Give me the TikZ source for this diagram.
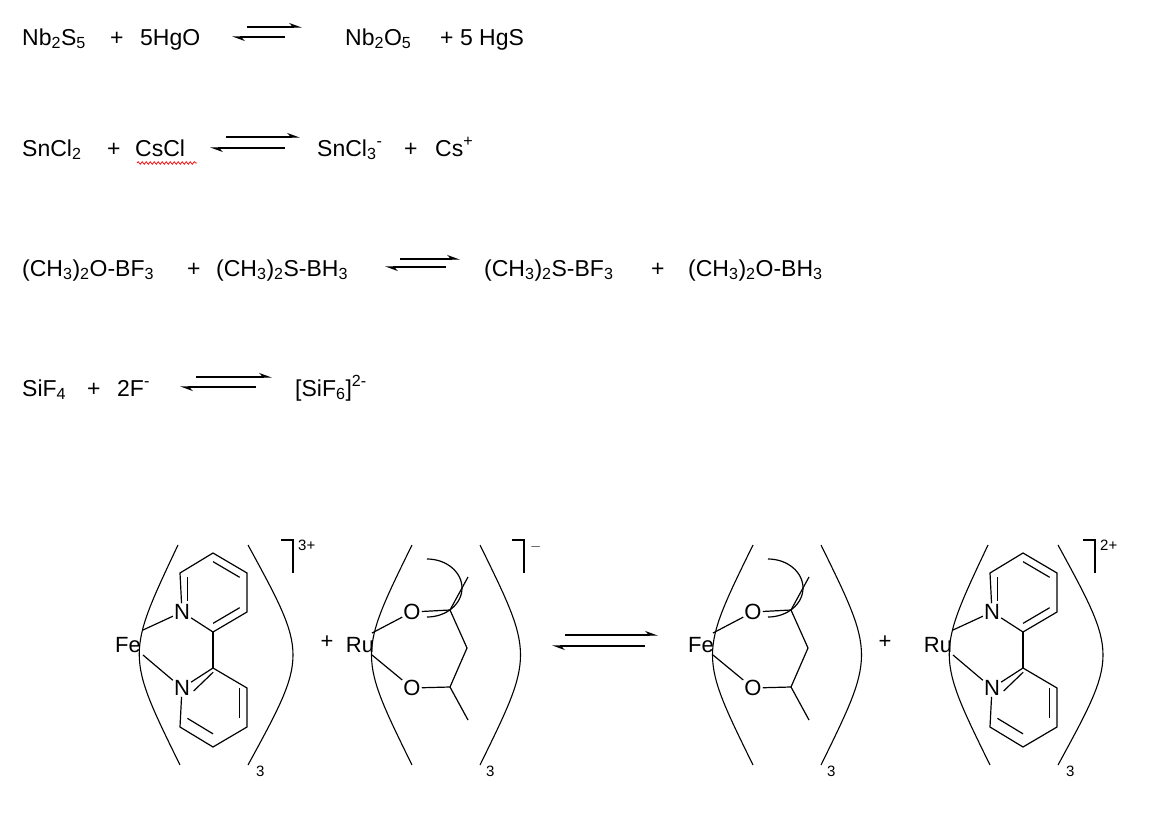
\documentclass[tikz,border=0pt]{standalone}
\usepackage{fontspec}
\setmainfont{Liberation Sans}
\usetikzlibrary{arrows.meta,calc,decorations.pathmorphing}
\tikzset{
  txt/.style={anchor=base west,inner sep=0pt,font=\fontsize{23}{27}\selectfont},
  atom/.style={inner sep=1pt,font=\fontsize{22}{26}\selectfont},
  small/.style={anchor=west,inner sep=0pt,font=\fontsize{15}{18}\selectfont},
  eqa/.style={line width=1.3pt,-{Stealth[harpoon,length=11pt,width=8pt]}},
  bond/.style={line width=1.2pt},
  paren/.style={line width=1.1pt}
}
\newcommand\bipylig[2]{% metal name, bracket charge (empty = none)
  \node[atom] (M) at (0,0) {#1};
  \coordinate (A) at (52,-72); \coordinate (B) at (85,-92); \coordinate (C) at (119,-72);
  \coordinate (D) at (119,-33); \coordinate (E) at (85,-13);
  \node[atom] (N1) at (54,-33) {N};
  \coordinate (E2) at (85,23); \coordinate (F) at (119,43); \coordinate (G) at (119,82);
  \coordinate (H) at (85,102); \coordinate (I) at (52,82);
  \node[atom] (N2) at (54,43) {N};
  \coordinate (c1) at (85.5,-52.5); \coordinate (c2) at (85.5,42.5);
  \draw[bond] (N1) -- (A) -- (B) -- (C) -- (D) -- (E) -- (N1);
  \draw[bond] (N2) -- (E2) -- (F) -- (G) -- (H) -- (I) -- (N2);
  \draw[bond] (E) -- (E2);
  \draw[bond] ($(c1)!0.78!(A)$) -- ($(c1)!0.78!(52,-42)$);
  \draw[bond] ($(c1)!0.78!(B)$) -- ($(c1)!0.78!(C)$);
  \draw[bond] ($(c1)!0.78!(D)$) -- ($(c1)!0.78!(E)$);
  \draw[bond] ($(c2)!0.78!(E2)$) -- ($(c2)!0.78!(60,47)$);
  \draw[bond] ($(c2)!0.78!(F)$) -- ($(c2)!0.78!(G)$);
  \draw[bond] ($(c2)!0.78!(H)$) -- ($(c2)!0.78!(I)$);
  \draw[bond] (15,-15) -- (N1);
  \draw[bond] (15,10) -- (N2);
  \draw[paren] (50,-100) .. controls (-2,10) .. (52,120);
  \draw[paren] (120,-100) .. controls (180,10) .. (120,120);
  \node[small] (sub) at (128,126) {3};
}
\newcommand\acaclig[1]{%
  \node[atom] (M) at (0,0) {#1};
  \node[atom] (O1) at (52,-33) {O};
  \node[atom] (O2) at (52,43) {O};
  \coordinate (C1) at (90,-35); \coordinate (C2) at (90,42);
  \coordinate (CH) at (107,3);
  \draw[bond] (12,-12) -- (O1);
  \draw[bond] (12,10) -- (O2);
  \draw[bond] (O1) -- (C1) -- (CH) -- (C2) -- (O2);
  \draw[bond] (C1) -- (108,-68);
  \draw[bond] (C2) -- (108,75);
  \draw[bond] (67,-28) arc[start angle=90,end angle=-90,x radius=35,y radius=29];
  \draw[paren] (52,-100) .. controls (-2,10) .. (52,120);
  \draw[paren] (120,-100) .. controls (174,10) .. (120,120);
  \node[small] (sub) at (126,126) {3};
}
\begin{document}
\begin{tikzpicture}[x=1pt,y=-1pt]
\useasboundingbox (0,0) rectangle (1160,830);
% row 1
\node[txt] (r1a) at (22,45) {Nb\textsubscript{2}S\textsubscript{5}};
\node[txt] (r1p) at (110,45) {+};
\node[txt] (r1b) at (140,45) {5HgO};
\node[txt] (r1c) at (345,45) {Nb\textsubscript{2}O\textsubscript{5}};
\node[txt] (r1d) at (440,45) {+ 5 HgS};
\coordinate (r1t1) at (247,27); \coordinate (r1t2) at (302,27);
\coordinate (r1b1) at (285,37); \coordinate (r1b2) at (232,37);
\draw[eqa] (r1t1) -- (r1t2); \draw[eqa] (r1b1) -- (r1b2);
% row 2
\node[txt] (r2a) at (22,156) {SnCl\textsubscript{2}};
\node[txt] (r2p) at (107,156) {+};
\node[txt] (r2b) at (135,156) {CsCl};
\node[txt] (r2c) at (317,156) {SnCl\textsubscript{3}\textsuperscript{-}};
\node[txt] (r2q) at (404,156) {+};
\node[txt] (r2d) at (435,156) {Cs\textsuperscript{+}};
\coordinate (w1) at (137,163); \coordinate (w2) at (197,163);
\draw[red,line width=0.7pt,decorate,decoration={snake,segment length=4pt,amplitude=1.3pt}] (w1) -- (w2);
\coordinate (r2t1) at (226,137); \coordinate (r2t2) at (300,137);
\coordinate (r2b1) at (285,148); \coordinate (r2b2) at (210,148);
\draw[eqa] (r2t1) -- (r2t2); \draw[eqa] (r2b1) -- (r2b2);
% row 3
\node[txt] (r3a) at (22,276) {(CH\textsubscript{3})\textsubscript{2}O-BF\textsubscript{3}};
\node[txt] (r3p) at (187,276) {+};
\node[txt] (r3b) at (216,276) {(CH\textsubscript{3})\textsubscript{2}S-BH\textsubscript{3}};
\node[txt] (r3c) at (484,276) {(CH\textsubscript{3})\textsubscript{2}S-BF\textsubscript{3}};
\node[txt] (r3q) at (651,276) {+};
\node[txt] (r3d) at (688,276) {(CH\textsubscript{3})\textsubscript{2}O-BH\textsubscript{3}};
\coordinate (r3t1) at (400,259); \coordinate (r3t2) at (460,259);
\coordinate (r3b1) at (446,267); \coordinate (r3b2) at (385,267);
\draw[eqa] (r3t1) -- (r3t2); \draw[eqa] (r3b1) -- (r3b2);
% row 4
\node[txt] (r4a) at (22,396) {SiF\textsubscript{4}};
\node[txt] (r4p) at (87,396) {+};
\node[txt] (r4b) at (117,396) {2F\textsuperscript{-}};
\node[txt] (r4c) at (295,396) {[SiF\textsubscript{6}]\textsuperscript{2-}};
\coordinate (r4t1) at (196,377); \coordinate (r4t2) at (272,377);
\coordinate (r4b1) at (256,387); \coordinate (r4b2) at (180,387);
\draw[eqa] (r4t1) -- (r4t2); \draw[eqa] (r4b1) -- (r4b2);
% bottom
\begin{scope}[shift={(128,645)},name prefix=fb-]
  \bipylig{Fe}{}
  \draw[paren] (153,-105) -- (165,-105) -- (165,-72);
  \node[small] (ch) at (170,-100) {3+};
\end{scope}
\node[atom] (plus1) at (327,642) {+};
\begin{scope}[shift={(360,645)},name prefix=ra-]
  \acaclig{Ru}
  \draw[paren] (152,-105) -- (164,-105) -- (164,-72);
  \node[small] (ch) at (170,-98) {$-$};
\end{scope}
\coordinate (ba1) at (565,635); \coordinate (ba2) at (658,635);
\coordinate (bb1) at (645,646); \coordinate (bb2) at (552,646);
\draw[eqa] (ba1) -- (ba2); \draw[eqa] (bb1) -- (bb2);
\begin{scope}[shift={(701,645)},name prefix=fa-]
  \acaclig{Fe}
\end{scope}
\node[atom] (plus2) at (885,642) {+};
\begin{scope}[shift={(938,645)},name prefix=rb-]
  \bipylig{Ru}{}
  \draw[paren] (145,-105) -- (157,-105) -- (157,-72);
  \node[small] (ch) at (162,-100) {2+};
\end{scope}
\end{tikzpicture}
\end{document}
